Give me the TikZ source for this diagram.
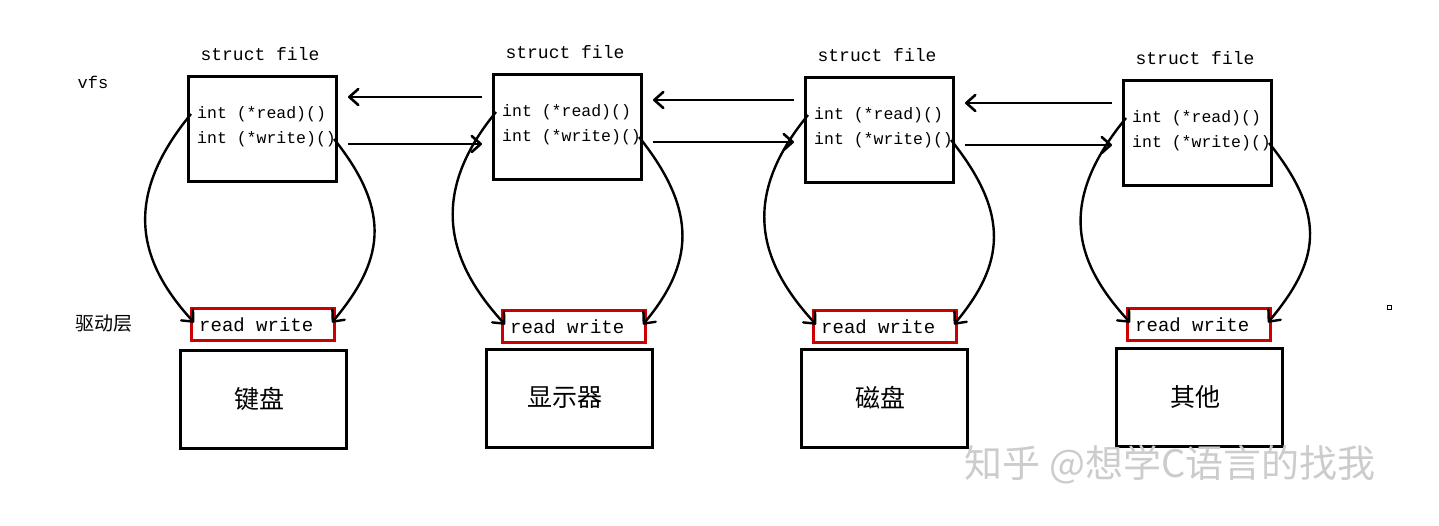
\documentclass[tikz,border=0pt]{standalone}
\usetikzlibrary{arrows.meta}
\usepackage{fontspec}
\setmonofont{Liberation Mono}
\newfontfamily\cjk{Noto Sans CJK SC}
\begin{document}
\begin{tikzpicture}[x=1pt,y=1pt,
  sbox/.style={draw,line width=3pt,inner sep=0pt,anchor=north west},
  rbox/.style={draw=red!80!black,line width=3pt,inner sep=0pt,anchor=north west},
  code/.style={font=\ttfamily\fontsize{16.5}{16.5}\selectfont,inner sep=0pt,anchor=west},
  ttl/.style={font=\ttfamily\fontsize{18}{18}\selectfont,inner sep=0pt},
  dev/.style={font=\cjk\fontsize{25}{25}\selectfont,inner sep=0pt},
  arr/.style={-{Straight Barb[length=9pt,width=16pt,line cap=round,line join=round]},line width=2.6pt},
  crv/.style={-{Straight Barb[length=9pt,width=16pt,line cap=round,line join=round]},line width=2.4pt}]
\useasboundingbox (0,0) rectangle (1439,-525);
\node[font=\ttfamily\fontsize{17}{17}\selectfont] (vfs) at (93,-82) {vfs};
\node[font=\cjk\fontsize{19}{19}\selectfont] (qd) at (104,-324) {驱动层};
\foreach \i/\sx/\sy/\rx/\ry/\dx/\dy/\dt in {
  1/187/75/190/307/179/349/键盘,
  2/492/73/501/309/485/348/显示器,
  3/804/76/812/309/800/348/磁盘,
  4/1122/79/1126/307/1115/347/其他}{
  \node[sbox,minimum width=148pt,minimum height=105pt] (s\i) at (\sx,-\sy) {};
  \node[ttl] (t\i) at (\sx+73,-\sy+21) {struct file};
  \node[code] (cr\i) at (\sx+10,-\sy-39) {int (*read)()};
  \node[code] (cw\i) at (\sx+10,-\sy-64) {int (*write)()};
  \node[rbox,minimum width=143pt,minimum height=32pt] (r\i) at (\rx,-\ry) {};
  \node[font=\ttfamily\fontsize{19}{19}\selectfont,inner sep=0pt,anchor=west] (rw\i) at (\rx+9,-\ry-18) {read write};
  \node[sbox,minimum width=166pt,minimum height=98pt] (d\i) at (\dx,-\dy) {};
  \node[dev] (dt\i) at (\dx+80,-\dy-50) {\dt};
  \draw[crv] ([xshift=-6pt]cr\i.west) .. controls +(-70,-85) and +(-55,60) .. ([xshift=4pt,yshift=2pt]r\i.west);
  \draw[crv] ([xshift=-2pt]cw\i.east) .. controls +(60,-75) and +(50,60) .. ([xshift=-4pt,yshift=2pt]r\i.east);
}
\foreach \a/\b in {1/2,2/3,3/4}{
  \coordinate (la\a) at ([xshift=-10pt,yshift=30pt]s\b.west);
  \coordinate (rb\a) at ([xshift=10pt,yshift=-15pt]s\a.east);
  \draw[arr] (la\a) -- ([xshift=10pt]s\a.east |- la\a);
  \draw[arr] (rb\a) -- ([xshift=-10pt]s\b.west |- rb\a);
}
\node[font=\cjk\fontsize{38}{38}\selectfont,text=gray!40] (wm) at (1170,-465) {知乎 @想学C语言的找我};
\node[draw,line width=0.8pt,minimum size=4pt,inner sep=0pt] (dot) at (1389,-307) {};
\end{tikzpicture}
\end{document}
